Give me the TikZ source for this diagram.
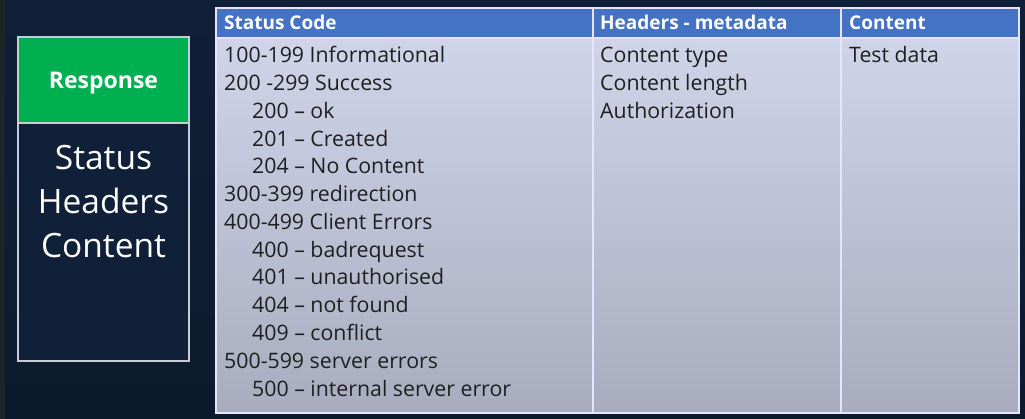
\documentclass[tikz,border=0pt]{standalone}
\usepackage{fontspec}
\setmainfont{Open Sans}
\definecolor{bgnavy}{RGB}{15,32,56}
\definecolor{bgnavydark}{RGB}{12,26,45}
\definecolor{bgstrip}{RGB}{28,38,40}
\definecolor{hdrblue}{RGB}{68,114,196}
\definecolor{bodytop}{RGB}{208,212,233}
\definecolor{bodybot}{RGB}{168,172,190}
\definecolor{respgreen}{RGB}{0,176,80}
\definecolor{boxline}{RGB}{200,204,216}
\tikzset{
    hdrtext/.style={anchor=base west, text=white, inner sep=0pt, font=\fontsize{19}{22}\selectfont\bfseries},
    rowtext/.style={anchor=base west, text=black!88, inner sep=0pt, font=\fontsize{21.3}{24}\selectfont},
    bigtext/.style={anchor=base, text=white, inner sep=0pt, font=\fontsize{33.5}{38}\selectfont},
}
\begin{document}
\begin{tikzpicture}[x=1pt, y=-1pt]
    % Background
    \useasboundingbox (0,0) rectangle (1025,419);
    \shade[top color=bgnavy, bottom color=bgnavydark] (0,0) rectangle (1025,419);
    \fill[bgstrip] (0,0) rectangle (5,419);

    % Left Box
    \fill[respgreen] (18,37) rectangle (189,123);
    \fill[bgnavy] (18,123) rectangle (189,361);
    \draw[boxline, line width=1.5pt] (18,37) rectangle (189,361);
    \draw[boxline, line width=1.5pt] (18,123) -- (189,123);
    \node[bigtext, font=\fontsize{23}{26}\selectfont\bfseries] (resp) at (103.5,89) {Response};
    \node[bigtext] (status) at (103.5,170) {Status};
    \node[bigtext] (headers) at (103.5,214) {Headers};
    \node[bigtext] (content) at (103.5,258) {Content};

    % Table Body and Header
    \shade[top color=bodytop, bottom color=bodybot] (216,38) rectangle (1019,413);
    \fill[hdrblue] (216,8) rectangle (1019,38);
    \draw[white!90!blue, line width=1.5pt] (216,8) rectangle (1019,413);
    \draw[white!90!blue, line width=1.5pt] (216,38) -- (1019,38);
    \draw[white!90!blue, line width=1.5pt] (593,8) -- (593,413);
    \draw[white!90!blue, line width=1.5pt] (841,8) -- (841,413);

    % Column Headers
    \node[hdrtext] (h1) at (224,30) {Status Code};
    \node[hdrtext] (h2) at (600,30) {Headers - metadata};
    \node[hdrtext] (h3) at (849,30) {Content};

    % -- status codes
    \node[rowtext] (c100) at (224,63) {100-199 Informational};
    \node[rowtext] (c200) at (224,90.75) {200 -299 Success};
    \node[rowtext] (c200ok) at (252,118.5) {200 -- ok};
    \node[rowtext] (c201) at (252,146.25) {201 -- Created};
    \node[rowtext] (c204) at (252,174) {204 -- No Content};
    \node[rowtext] (c300) at (224,201.75) {300-399 redirection};
    \node[rowtext] (c400) at (224,229.5) {400-499 Client Errors};
    \node[rowtext] (c400bad) at (252,257.25) {400 -- badrequest};
    \node[rowtext] (c401) at (252,285) {401 -- unauthorised};
    \node[rowtext] (c404) at (252,312.75) {404 -- not found};
    \node[rowtext] (c409) at (252,340.5) {409 -- conflict};
    \node[rowtext] (c500) at (224,368.25) {500-599 server errors};
    \node[rowtext] (c500int) at (252,396) {500 -- internal server error};

    % -- headers
    \node[rowtext] (ctype) at (600,63) {Content type};
    \node[rowtext] (clength) at (600,90.75) {Content length};
    \node[rowtext] (auth) at (600,118.5) {Authorization};

    % -- content
    \node[rowtext] (test) at (849,63) {Test data};
\end{tikzpicture}
\end{document}
